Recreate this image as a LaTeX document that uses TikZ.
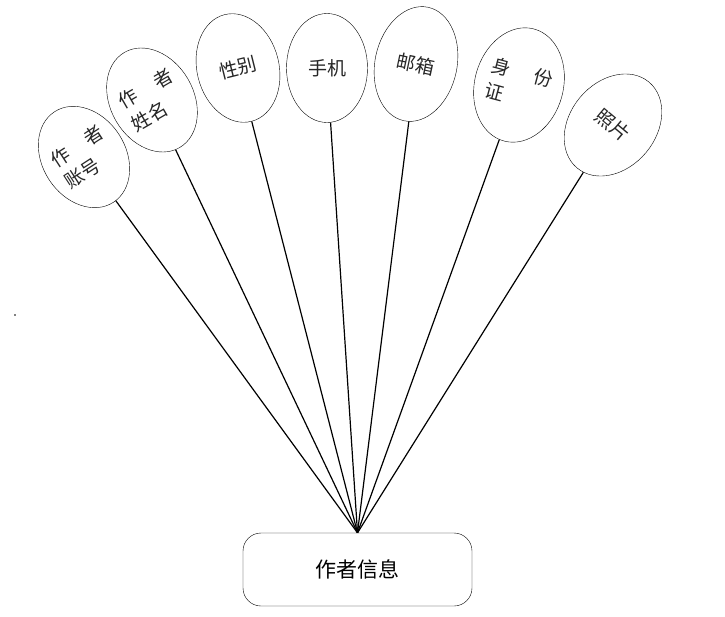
\documentclass[tikz,border=0pt]{standalone}
\usepackage{fontspec}
\usepackage{tikz}
\usetikzlibrary{shapes.geometric}
\newfontfamily\cjk{Noto Sans CJK SC}

\begin{document}
\begin{tikzpicture}[x=1pt,y=-1pt,
  attr/.style={draw,ellipse,inner sep=0pt,minimum width=82pt,minimum height=110pt,
               align=left,font=\cjk\fontsize{19}{26}\selectfont,text=black!85},
  ent/.style={draw,rounded corners=18pt,minimum width=229pt,minimum height=73pt,
              font=\cjk\fontsize{21}{24}\selectfont},
  link/.style={line width=1.2pt}]
  \useasboundingbox (0,0) rectangle (725,616);
  \node[ent] (info) at (357.5,569.5) {作者信息};
  % attributes
  \node[attr,rotate=33,minimum height=108pt] (acct) at (84,157) {作\hspace{1.1em}者\\账号};
  \node[attr,rotate=30] (name) at (152,100) {作\hspace{1.1em}者\\姓名};
  \node[attr,rotate=14] (sex) at (238,68) {性别};
  \node[attr,minimum width=81pt,minimum height=109pt] (phone) at (327,68) {手机};
  \node[attr,rotate=-12,minimum height=116pt] (mail) at (416,64) {邮箱};
  \node[attr,rotate=-15,minimum height=116pt] (idno) at (519,85) {身\hspace{1.3em}份\\证};
  \node[attr,rotate=-40,minimum width=86pt,minimum height=112pt] (photo) at (613,125) {照片};
  \foreach \a in {acct,name,sex,phone,mail,idno,photo}
    \draw[link] (\a) -- (info.north);
  \fill (15,315) circle (0.8pt);
\end{tikzpicture}
\end{document}
